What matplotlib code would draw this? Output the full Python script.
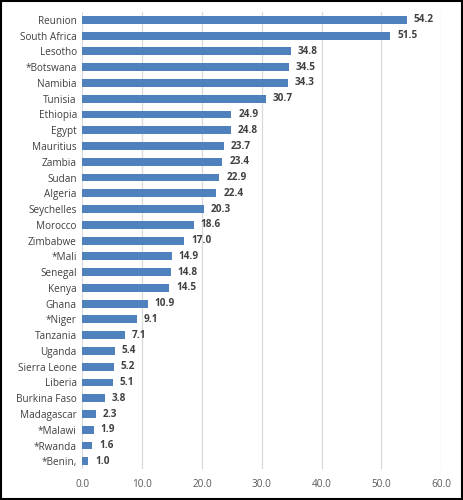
import matplotlib
matplotlib.use("Agg")
import matplotlib.pyplot as plt
from matplotlib.patches import Rectangle

countries = ["Reunion", "South Africa", "Lesotho", "*Botswana", "Namibia", "Tunisia",
             "Ethiopia", "Egypt", "Mauritius", "Zambia", "Sudan", "Algeria", "Seychelles",
             "Morocco", "Zimbabwe", "*Mali", "Senegal", "Kenya", "Ghana", "*Niger",
             "Tanzania", "Uganda", "Sierra Leone", "Liberia", "Burkina Faso", "Madagascar",
             "*Malawi", "*Rwanda", "*Benin,"]
values = [54.2, 51.5, 34.8, 34.5, 34.3, 30.7, 24.9, 24.8, 23.7, 23.4, 22.9, 22.4, 20.3,
          18.6, 17.0, 14.9, 14.8, 14.5, 10.9, 9.1, 7.1, 5.4, 5.2, 5.1, 3.8, 2.3, 1.9, 1.6, 1.0]
xticks = [0, 10, 20, 30, 40, 50, 60]

plt.rcParams['font.family'] = ['Open Sans', 'DejaVu Sans']

fig = plt.figure(figsize=(4.63, 5.0), dpi=100)
ax = fig.add_axes([0.178, 0.0616, 0.775, 0.9144])

n = len(countries)
ypos = list(range(n))[::-1]
ax.barh(ypos, values, height=0.5, color="#4F81BD", zorder=3)
for y, v in zip(ypos, values):
    ax.annotate(f"{v:.1f}", xy=(v, y), xytext=(5, 0), textcoords="offset points",
                va="center", ha="left", fontsize=7.2, fontweight="bold", color="#404040")

ax.set_xlim(0, 60)
ax.set_ylim(-0.5, n - 0.5)
ax.set_yticks(ypos)
ax.set_yticklabels(countries, fontsize=7.2, color="#404040")
ax.set_xticks(xticks)
ax.set_xticklabels([f"{t:.1f}" for t in xticks], fontsize=7.2, color="#595959")
ax.tick_params(axis='both', length=0, pad=4)
ax.tick_params(axis='x', pad=7)
ax.grid(axis='x', color="#D9D9D9", linewidth=0.9, zorder=0)
for s in ax.spines.values():
    s.set_visible(False)

fig.patches.append(Rectangle((0.002, 0.002), 0.996, 0.996, transform=fig.transFigure,
                             fill=False, edgecolor="black", linewidth=1.5))
fig.savefig("out.png", dpi=100)
